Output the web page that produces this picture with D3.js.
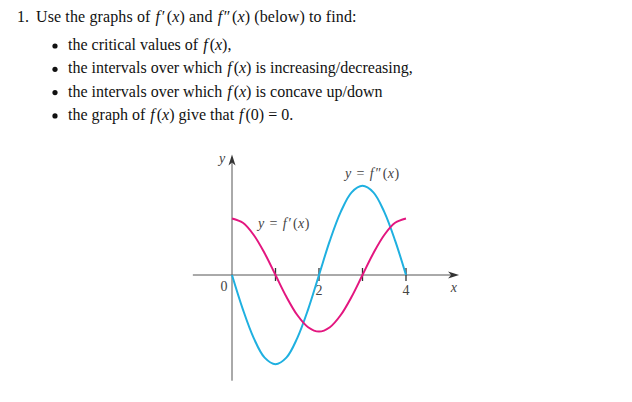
<!DOCTYPE html>
<html>
<head>
<meta charset="utf-8">
<script src="https://cdn.jsdelivr.net/npm/d3@7"></script>
<style>
  body { margin: 0; background: #fff; }
  svg { display: block; }
</style>
</head>
<body>
<div id="chart"></div>
<script>
// values, x step 0.25
var xs = [0, 0.25, 0.5, 0.75, 1, 1.25, 1.5, 1.75, 2, 2.25, 2.5, 2.75, 3, 3.25, 3.5, 3.75, 4];
var fPrime = [1.3, 1.2, 0.92, 0.5, 0, -0.5, -0.92, -1.2, -1.3, -1.2, -0.92, -0.5, 0, 0.5, 0.92, 1.2, 1.3];
var fDouble = [0, -0.79, -1.45, -1.9, -2.05, -1.9, -1.45, -0.79, 0, 0.79, 1.45, 1.9, 2.05, 1.9, 1.45, 0.79, 0];
var tickVals = [1, 2, 3, 4];
var tickLabels = ["", "2", "", "4"];

// question text; each line is a list of [text, italic] pieces
var questionLines = [
  [["Use the graphs of ", 0], ["f", 1], ["\u2032", 0], ["(", 0], ["x", 1], [") and ", 0], ["f", 1], ["\u2033", 0], ["(", 0], ["x", 1], [") (below) to find:", 0]],
  [["the critical values of ", 0], ["f", 1], ["(", 0], ["x", 1], ["),", 0]],
  [["the intervals over which ", 0], ["f", 1], ["(", 0], ["x", 1], [") is increasing/decreasing,", 0]],
  [["the intervals over which ", 0], ["f", 1], ["(", 0], ["x", 1], [") is concave up/down", 0]],
  [["the graph of ", 0], ["f", 1], ["(", 0], ["x", 1], [") give that ", 0], ["f", 1], ["(0) = 0.", 0]]
];

var width = 632, height = 402;

var svg = d3.select("#chart").append("svg")
    .attr("width", width)
    .attr("height", height);

// question block
var q = svg.append("g")
    .style("font-family", "'Liberation Serif', serif")
    .style("font-size", "16px")
    .attr("fill", "#111");

q.append("text").attr("x", 17).attr("y", 21.7).text("1.");

questionLines.forEach(function(line, i) {
    var t = q.append("text")
        .attr("x", i === 0 ? 36 : 68)
        .attr("y", i === 0 ? 21.7 : 50 + (i - 1) * 23.3)
        .style("letter-spacing", i === 0 ? "0.12px" : "0px");
    var prev = null;
    line.forEach(function(p) {
        var s = t.append("tspan")
            .style("font-style", p[1] ? "italic" : "normal")
            .text(p[0]);
        // a little extra room around math glyphs, like TeX
        if (prev === "f") s.attr("dx", p[0].charAt(0) === "(" ? 2 : 1.5);
        if (prev === "\u2032" || prev === "\u2033") s.attr("dx", 1.5);
        if (p[0] === "f") s.attr("dx", 1);
        prev = p[0];
    });
    if (i > 0) {
        q.append("circle")
            .attr("cx", 55)
            .attr("cy", 46 + (i - 1) * 23.3)
            .attr("r", 2.6);
    }
});

// graph scales
var unit = 43.5;
var x = d3.scaleLinear().domain([0, 4]).range([232, 232 + 4 * unit]);
var y = d3.scaleLinear().domain([0, 1]).range([275, 275 - unit]);

var g = svg.append("g");

// axes
var axisColor = "#555";
g.append("line")
    .attr("x1", x(-0.9)).attr("x2", x(5.1))
    .attr("y1", y(0)).attr("y2", y(0))
    .attr("stroke", axisColor).attr("stroke-width", 1);
g.append("line")
    .attr("x1", x(0)).attr("x2", x(0))
    .attr("y1", y(-2.43)).attr("y2", y(2.62))
    .attr("stroke", axisColor).attr("stroke-width", 1);

// arrow heads
var xe = x(5.22), ye = y(0);
g.append("path")
    .attr("d", "M" + xe + "," + ye + "L" + (xe - 11) + "," + (ye - 3.5) + "L" + (xe - 8) + "," + ye + "L" + (xe - 11) + "," + (ye + 3.5) + "Z")
    .attr("fill", "#333");
var xa = x(0), ya = y(2.77);
g.append("path")
    .attr("d", "M" + xa + "," + ya + "L" + (xa - 3.5) + "," + (ya + 11) + "L" + xa + "," + (ya + 8) + "L" + (xa + 3.5) + "," + (ya + 11) + "Z")
    .attr("fill", "#333");

// ticks
g.selectAll(".tick")
    .data(tickVals)
    .enter().append("line")
    .attr("class", "tick")
    .attr("x1", function(d) { return x(d); })
    .attr("x2", function(d) { return x(d); })
    .attr("y1", y(0) - 7)
    .attr("y2", y(0) + 6)
    .attr("stroke", "#333")
    .attr("stroke-width", 1.3);

var labelFont = "'Liberation Serif', 'Times New Roman', serif";
g.selectAll(".tlab")
    .data(tickVals)
    .enter().append("text")
    .attr("class", "tlab")
    .attr("x", function(d) { return x(d); })
    .attr("y", y(0) + 20)
    .attr("text-anchor", "middle")
    .style("font-family", labelFont)
    .style("font-size", "14px")
    .attr("fill", "#444")
    .text(function(d, i) { return tickLabels[i]; });

g.append("text")
    .attr("x", x(0) - 8).attr("y", y(0) + 16)
    .attr("text-anchor", "middle")
    .style("font-family", labelFont).style("font-size", "14px")
    .attr("fill", "#444").text("0");
g.append("text")
    .attr("x", x(5.1)).attr("y", y(0) + 17)
    .attr("text-anchor", "middle")
    .style("font-family", labelFont).style("font-size", "14px").style("font-style", "italic")
    .attr("fill", "#444").text("x");
g.append("text")
    .attr("x", x(0) - 10).attr("y", y(2.58))
    .attr("text-anchor", "middle")
    .style("font-family", labelFont).style("font-size", "14px").style("font-style", "italic")
    .attr("fill", "#444").text("y");

// curves
var line = d3.line()
    .x(function(d) { return x(d[0]); })
    .y(function(d) { return y(d[1]); })
    .curve(d3.curveCatmullRom);

g.append("path")
    .datum(xs.map(function(v, i) { return [v, fDouble[i]]; }))
    .attr("d", line)
    .attr("fill", "none")
    .attr("stroke", "#1fb0e0")
    .attr("stroke-width", 2);

g.append("path")
    .datum(xs.map(function(v, i) { return [v, fPrime[i]]; }))
    .attr("d", line)
    .attr("fill", "none")
    .attr("stroke", "#e3167f")
    .attr("stroke-width", 2);

// curve labels
function curveLabel(px, py, primes) {
    var t = g.append("text")
        .attr("x", px).attr("y", py)
        .style("font-family", labelFont)
        .style("font-size", "14px")
        .style("letter-spacing", "0.4px")
        .attr("fill", "#444");
    t.append("tspan").style("font-style", "italic").text("y");
    t.append("tspan").attr("dx", 1).text(" = ");
    t.append("tspan").attr("dx", 1).style("font-style", "italic").text("f");
    t.append("tspan").attr("dx", 1.5).text(primes);
    t.append("tspan").attr("dx", 1).text("(");
    t.append("tspan").style("font-style", "italic").text("x");
    t.append("tspan").text(")");
}
curveLabel(258, 228, "\u2032");
curveLabel(345, 178, "\u2033");
</script>
</body>
</html>
